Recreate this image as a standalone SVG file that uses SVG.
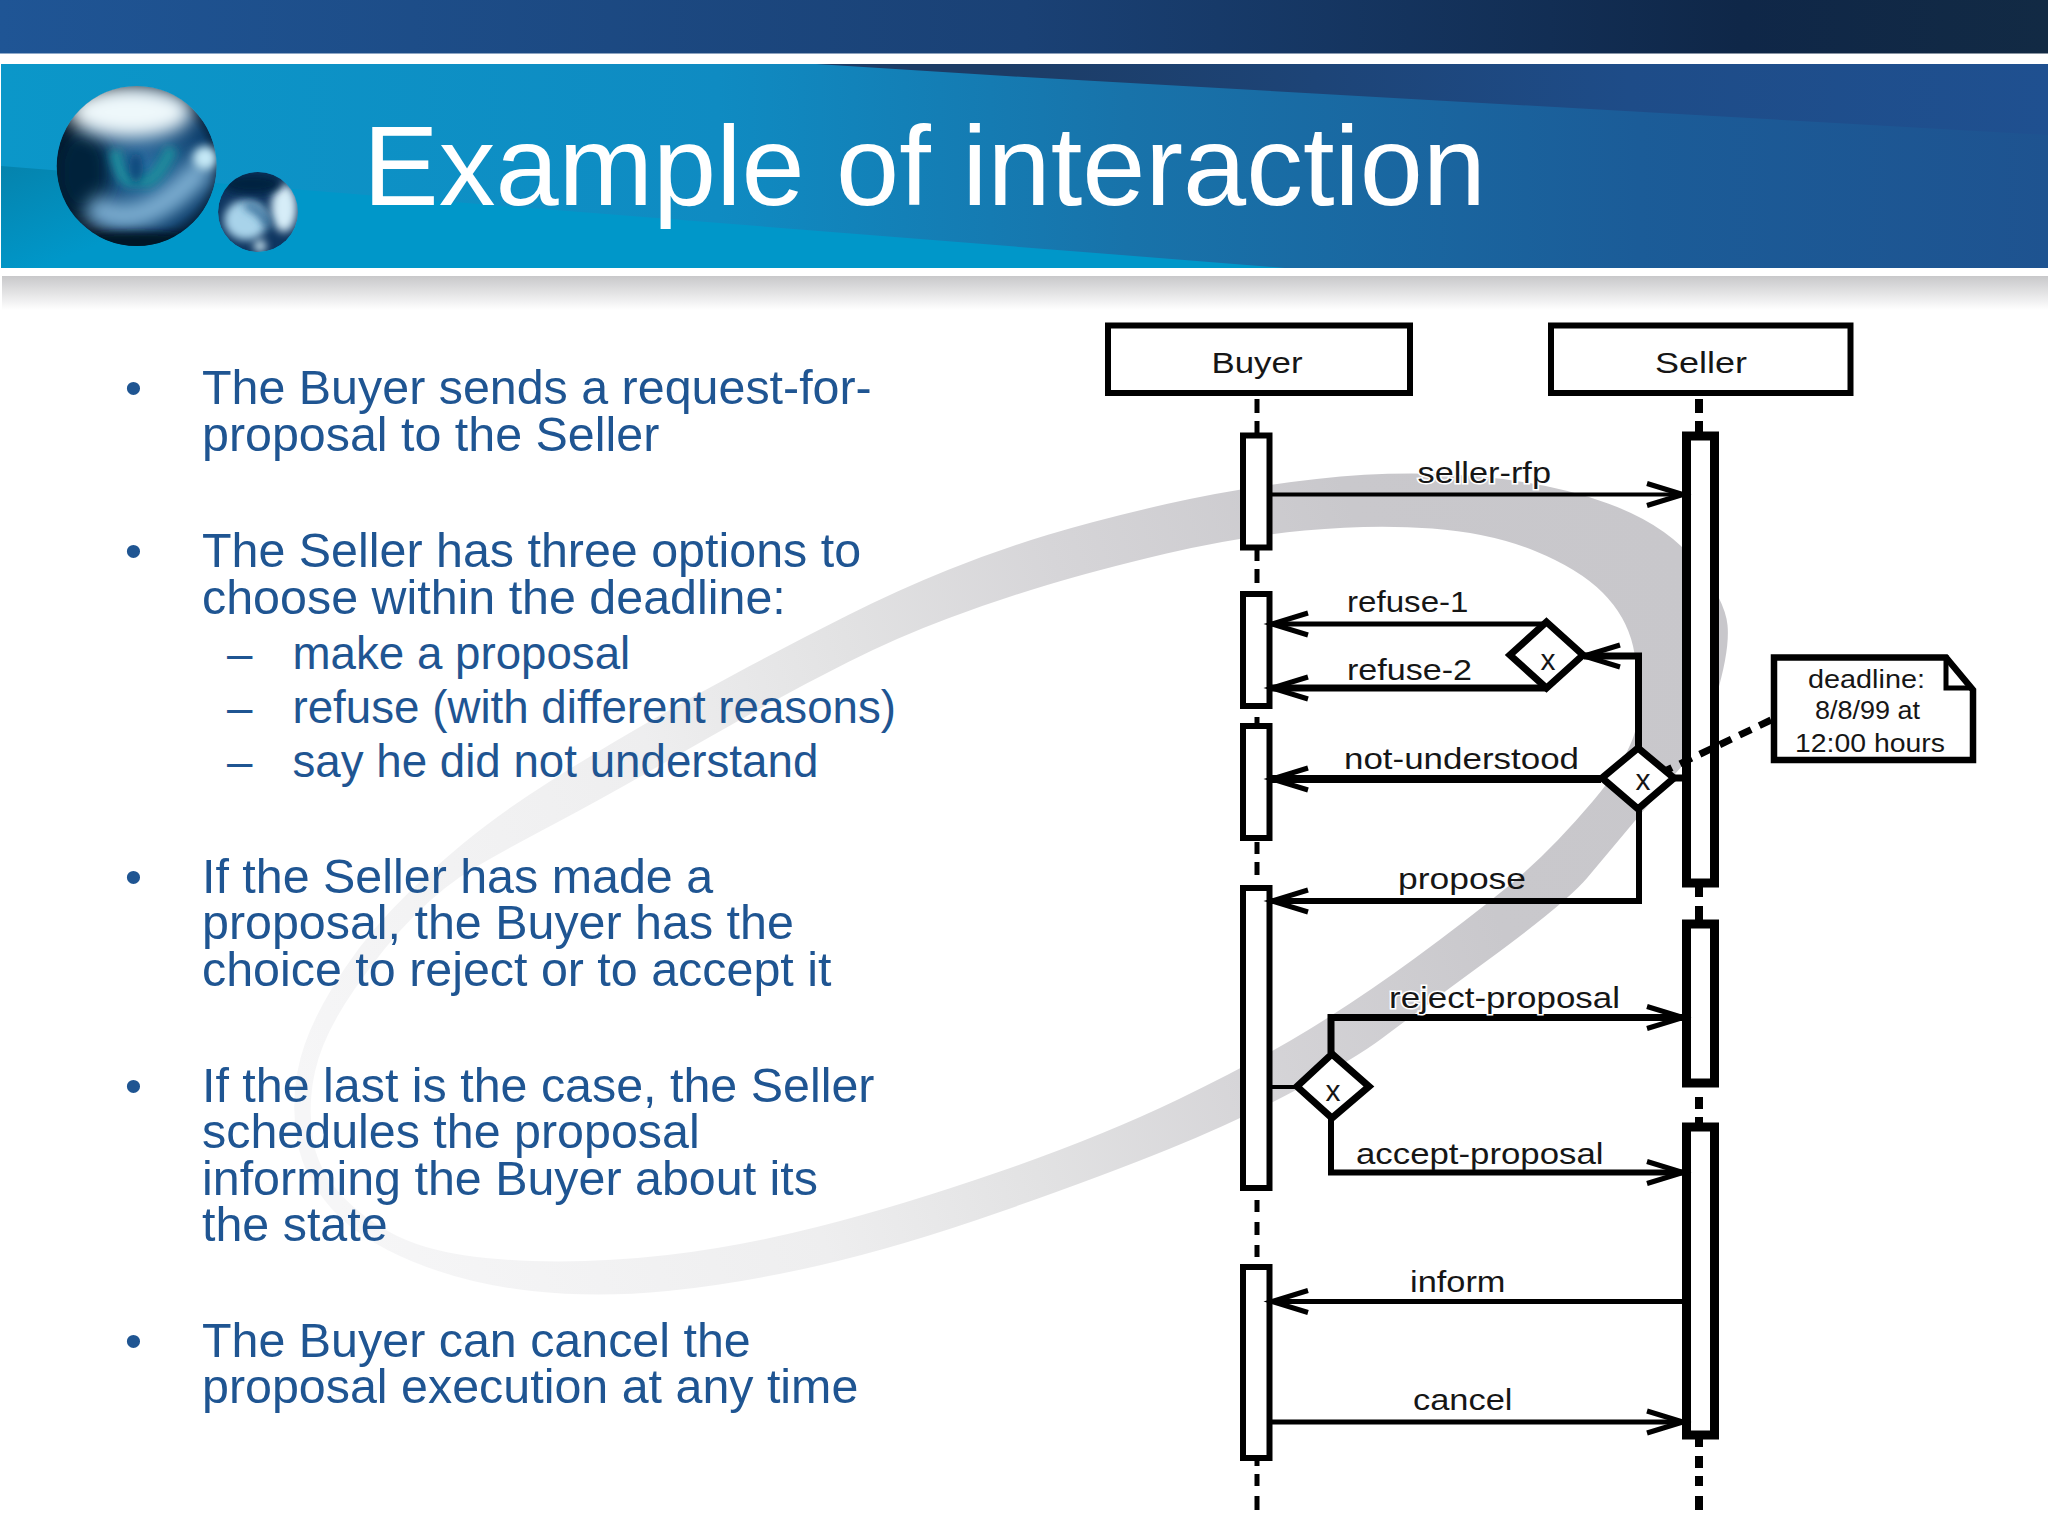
<svg xmlns="http://www.w3.org/2000/svg" width="2048" height="1536" viewBox="0 0 2048 1536">
<style>
.body{font-family:"Liberation Sans",Arial,sans-serif;font-size:48.4px;fill:#1f5592}
.sub{font-size:45.7px}
.title{font-family:"Liberation Sans",Arial,sans-serif;font-size:113.5px;fill:#fff}
.lbl{font-family:"Liberation Sans",Arial,sans-serif;font-size:30px;fill:#161616}
.halo{paint-order:stroke;stroke:#fff;stroke-width:3px}
.x{font-size:30px;text-anchor:middle}
.box{fill:#fff;stroke:#000;stroke-width:6}
.bbar{fill:#fff;stroke:#000;stroke-width:6}
.sbar{fill:#fff;stroke:#000;stroke-width:9}
.life{fill:none;stroke:#000}
.msg{fill:none;stroke:#000;stroke-width:5}
.dia{fill:#fff;stroke:#000;stroke-width:7}
</style>
<defs>
<linearGradient id="gTop" x1="0" y1="0" x2="1" y2="0"><stop offset="0" stop-color="#1f5595"/><stop offset=".5" stop-color="#1a4175"/><stop offset=".85" stop-color="#0f2748"/><stop offset="1" stop-color="#122a44"/></linearGradient>
<linearGradient id="gBand" x1="0" y1="0" x2="1" y2="0"><stop offset="0" stop-color="#0b97c9"/><stop offset=".35" stop-color="#0f8bc2"/><stop offset=".55" stop-color="#1873aa"/><stop offset=".8" stop-color="#1b5c98"/><stop offset="1" stop-color="#1e5390"/></linearGradient>
<linearGradient id="gWedge" gradientUnits="userSpaceOnUse" x1="0" y1="166" x2="40" y2="268"><stop offset="0" stop-color="#0583ad"/><stop offset="1" stop-color="#0097c9"/></linearGradient>
<linearGradient id="gCorner" gradientUnits="userSpaceOnUse" x1="1000" y1="64" x2="2048" y2="64"><stop offset="0" stop-color="#1c3c66"/><stop offset=".6" stop-color="#1e4c88"/><stop offset="1" stop-color="#1f5090"/></linearGradient>
<linearGradient id="gShade" x1="0" y1="0" x2="0" y2="1"><stop offset="0" stop-color="#c8c8ca"/><stop offset="1" stop-color="#fff"/></linearGradient>
<linearGradient id="gSwoosh" gradientUnits="userSpaceOnUse" x1="300" y1="1100" x2="1700" y2="600"><stop offset="0" stop-color="#f6f6f7"/><stop offset=".3" stop-color="#eeeeef"/><stop offset=".45" stop-color="#e2e2e3"/><stop offset=".6" stop-color="#d6d5d8"/><stop offset=".8" stop-color="#c9c8cc"/><stop offset="1" stop-color="#c8c7cb"/></linearGradient>
<radialGradient id="gB" cx=".55" cy=".5" r=".5"><stop offset="0" stop-color="#2d6ea3"/><stop offset=".8" stop-color="#0e3f6c"/><stop offset="1" stop-color="#041628"/></radialGradient>
<filter id="b8" x="-60%" y="-60%" width="220%" height="220%"><feGaussianBlur stdDeviation="9"/></filter>
<filter id="b4" x="-60%" y="-60%" width="220%" height="220%"><feGaussianBlur stdDeviation="4"/></filter>
<clipPath id="cBig"><circle cx="136.7" cy="166" r="80"/></clipPath>
<clipPath id="cSmall"><circle cx="258" cy="212" r="40"/></clipPath>
<marker id="arrow" markerUnits="userSpaceOnUse" markerWidth="44" markerHeight="32" refX="40" refY="16" orient="auto" overflow="visible"><path d="M4 5L40 16L4 27" fill="none" stroke="#000" stroke-width="5"/></marker>
</defs>

<g id="background">
<rect width="2048" height="1536" fill="#fff"/>
<path fill="url(#gSwoosh)" fill-rule="evenodd" d="M297.5 1142.5Q291 1108 297.5 1071.5Q304 1035 331 990Q358 945 391.5 910Q425 875 462.5 844Q500 813 549.75 781.5Q599.5 750 649.25 721.5Q699 693 748.75 666.5Q798.5 640 848.25 615Q898 590 947.75 570Q997.5 550 1047.25 535Q1097 520 1166.5 504Q1236 488 1316.5 479Q1397 470 1473 476Q1549 482 1608 503.5Q1667 525 1696 562.5Q1725 600 1727.5 625Q1730 650 1716 697Q1702 744 1683.5 764.5Q1665 785 1636.5 819Q1608 853 1587.5 877.5Q1567 902 1488 960Q1409 1018 1382.5 1038Q1356 1058 1297 1089.5Q1238 1121 1169 1149Q1100 1177 1000 1212Q900 1247 819 1265.5Q738 1284 667.5 1291Q597 1298 532 1291Q467 1284 412.5 1261.5Q358 1239 331 1208Q304 1177 297.5 1142.5Z
M313.5 1142.5Q307 1108 315 1071.5Q323 1035 354 990Q385 945 415 915Q445 885 475 867.5Q505 850 552.25 825Q599.5 800 649.25 771.5Q699 743 748.75 715Q798.5 687 848.25 662Q898 637 947.75 618.5Q997.5 600 1047.25 585Q1097 570 1166.5 553.5Q1236 537 1304.5 530.5Q1373 524 1432 528.5Q1491 533 1535 551Q1579 569 1602.5 592.5Q1626 616 1633 646Q1640 676 1638.5 712.5Q1637 749 1593 801Q1549 853 1508 886.5Q1467 920 1414.5 958.5Q1362 997 1309 1029.5Q1256 1062 1178 1099.5Q1100 1137 1000 1171.5Q900 1206 819 1226.5Q738 1247 667.5 1255Q597 1263 532 1261Q467 1259 426 1247Q385 1235 352.5 1206Q320 1177 313.5 1142.5Z"/>
</g>

<g id="header">
<rect x="0" y="0" width="2048" height="53.5" fill="url(#gTop)"/>
<rect x="1" y="64" width="2047" height="204" fill="url(#gBand)"/>
<polygon points="1,166 1285,268 1,268" fill="url(#gWedge)"/>
<polygon points="816,64 2048,64 2048,135 1024,77" fill="url(#gCorner)"/>
<rect x="2" y="276" width="2046" height="34" fill="url(#gShade)"/>
<text class="title" x="363" y="205">Example of interaction</text>
</g>

<g id="sphere-large" clip-path="url(#cBig)">
<circle cx="136.7" cy="166" r="80" fill="url(#gB)"/>
<ellipse cx="82" cy="172" rx="28" ry="44" fill="#03203a" filter="url(#b8)"/>
<path d="M90 205Q140 240 205 165" fill="none" stroke="#7fb0d3" stroke-width="26" filter="url(#b8)"/>
<path d="M115 150Q122 190 138 178Q152 192 172 148" fill="none" stroke="#1c8a9c" stroke-width="13" filter="url(#b4)"/>
<ellipse cx="136" cy="168" rx="7" ry="15" fill="#0d4a7d" filter="url(#b4)"/>
<ellipse cx="130" cy="112" rx="62" ry="26" fill="#eef8fb" filter="url(#b8)"/>
<circle cx="205" cy="158" r="12" fill="#c4e8f6" filter="url(#b4)"/>
<ellipse cx="136" cy="242" rx="60" ry="10" fill="#031526" filter="url(#b4)"/>
</g>
<g id="sphere-small" clip-path="url(#cSmall)">
<circle cx="258" cy="212" r="40" fill="#0e3560"/>
<ellipse cx="246" cy="220" rx="22" ry="20" fill="#a8d3ea" filter="url(#b4)"/>
<ellipse cx="284" cy="208" rx="13" ry="24" fill="#d6edf8" filter="url(#b4)"/>
<ellipse cx="252" cy="184" rx="30" ry="10" fill="#06203f" filter="url(#b4)"/>
<path d="M245 205Q262 210 268 226" fill="none" stroke="#26618f" stroke-width="7" filter="url(#b4)"/>
<circle cx="260" cy="246" r="6" fill="#d5f0f9" filter="url(#b4)"/>
</g>

<g id="bullets">
<text class="body" x="125" y="403.5">•</text>
<text class="body" x="202" y="403.5">The Buyer sends a request-for-</text>
<text class="body" x="202" y="450.5">proposal to the Seller</text>
<text class="body" x="125" y="567">•</text>
<text class="body" x="202" y="567">The Seller has three options to</text>
<text class="body" x="202" y="613.5">choose within the deadline:</text>
<text class="body sub" x="227" y="668.5">–</text>
<text class="body sub" x="292.5" y="668.5">make a proposal</text>
<text class="body sub" x="227" y="722.5">–</text>
<text class="body sub" x="292.5" y="722.5">refuse (with different reasons)</text>
<text class="body sub" x="227" y="777">–</text>
<text class="body sub" x="292.5" y="777">say he did not understand</text>
<text class="body" x="125" y="893">•</text>
<text class="body" x="202" y="893">If the Seller has made a</text>
<text class="body" x="202" y="939">proposal, the Buyer has the</text>
<text class="body" x="202" y="985.5">choice to reject or to accept it</text>
<text class="body" x="125" y="1101.5">•</text>
<text class="body" x="202" y="1101.5">If the last is the case, the Seller</text>
<text class="body" x="202" y="1148">schedules the proposal</text>
<text class="body" x="202" y="1194.5">informing the Buyer about its</text>
<text class="body" x="202" y="1240.5">the state</text>
<text class="body" x="125" y="1356.5">•</text>
<text class="body" x="202" y="1356.5">The Buyer can cancel the</text>
<text class="body" x="202" y="1403">proposal execution at any time</text>
</g>

<g id="lifelines">
<path class="life" stroke-width="5" d="M1257 399V413M1257 421V433M1257 550V561M1257 569V583M1257 717V723M1257 842V854M1257 862V875M1257 1200V1212M1257 1222V1235M1257 1245V1257M1257 1460V1466M1257 1474V1486M1257 1496V1510"/>
<path class="life" stroke-width="8" d="M1699 399V413M1699 421V433M1699 887V897M1699 906V920M1699 1097V1109M1699 1117V1123M1699 1439V1447M1699 1456V1468M1699 1476V1486M1699 1496V1510"/>
</g>

<g id="buyer"><rect class="box" x="1108" y="325.5" width="302" height="67.5"/><text class="lbl" x="1211.5" y="373" textLength="91" lengthAdjust="spacingAndGlyphs">Buyer</text></g>
<g id="seller"><rect class="box" x="1551" y="325.5" width="299.5" height="67.5"/><text class="lbl" x="1655" y="373" textLength="92" lengthAdjust="spacingAndGlyphs">Seller</text></g>

<g id="buyer-activations">
<rect class="bbar" x="1243" y="435.5" width="26.5" height="112"/>
<rect class="bbar" x="1243" y="594" width="26.5" height="112"/>
<rect class="bbar" x="1243" y="726" width="26.5" height="112"/>
<rect class="bbar" x="1243" y="888" width="26.5" height="300"/>
<rect class="bbar" x="1243" y="1267" width="26.5" height="191"/>
</g>
<g id="seller-activations">
<rect class="sbar" x="1686.5" y="436" width="28" height="447"/>
<rect class="sbar" x="1686.5" y="924" width="28" height="159"/>
<rect class="sbar" x="1686.5" y="1127" width="28" height="308"/>
</g>

<g id="connectors">
<path class="msg" style="stroke-width:4" d="M1272 494.5H1683" marker-end="url(#arrow)"/>
<path class="msg" d="M1546 624H1272" marker-end="url(#arrow)"/>
<path class="msg" style="stroke-width:7" d="M1546 688H1272" marker-end="url(#arrow)"/>
<path class="msg" style="stroke-width:7" d="M1638.5 750V656H1584" marker-end="url(#arrow)"/>
<path class="msg" style="stroke-width:8" d="M1601 779H1272" marker-end="url(#arrow)"/>
<path class="msg" style="stroke-width:7" d="M1675 778H1683"/>
<path class="msg" style="stroke-width:6" d="M1639 808V901H1272" marker-end="url(#arrow)"/>
<path class="msg" style="stroke-width:7" d="M1331 1053V1017.5H1683" marker-end="url(#arrow)"/>
<path class="msg" style="stroke-width:4" d="M1272 1087H1297"/>
<path class="msg" style="stroke-width:6" d="M1331 1119V1172.5H1683" marker-end="url(#arrow)"/>
<path class="msg" d="M1683 1301.5H1272" marker-end="url(#arrow)"/>
<path class="msg" d="M1272 1422H1683" marker-end="url(#arrow)"/>
<path class="msg" style="stroke-width:7" stroke-dasharray="13 9" d="M1771 720L1663 772"/>
</g>

<g id="message-labels">
<text class="lbl halo" x="1417.5" y="482.7" textLength="133.5" lengthAdjust="spacingAndGlyphs">seller-rfp</text>
<text class="lbl" x="1347" y="612" textLength="121.5" lengthAdjust="spacingAndGlyphs">refuse-1</text>
<text class="lbl" x="1347" y="680" textLength="125" lengthAdjust="spacingAndGlyphs">refuse-2</text>
<text class="lbl" x="1344" y="768.5" textLength="235" lengthAdjust="spacingAndGlyphs">not-understood</text>
<text class="lbl" x="1398" y="889" textLength="128" lengthAdjust="spacingAndGlyphs">propose</text>
<text class="lbl halo" x="1389" y="1007.5" textLength="231" lengthAdjust="spacingAndGlyphs">reject-proposal</text>
<text class="lbl" x="1356" y="1163.6" textLength="247.5" lengthAdjust="spacingAndGlyphs">accept-proposal</text>
<text class="lbl" x="1410" y="1292" textLength="95.5" lengthAdjust="spacingAndGlyphs">inform</text>
<text class="lbl" x="1413" y="1410" textLength="99.5" lengthAdjust="spacingAndGlyphs">cancel</text>
</g>

<g id="decision-1"><polygon class="dia" points="1546.5,622 1583,655 1546.5,688 1510,655"/><text class="lbl x" x="1548" y="670">x</text></g>
<g id="decision-2"><polygon class="dia" points="1638,748 1674,778 1638,809 1602,778"/><text class="lbl x" x="1643" y="790">x</text></g>
<g id="decision-3"><polygon class="dia" points="1332,1054 1369,1086.5 1332,1118 1297,1086.5"/><text class="lbl x" x="1333" y="1101">x</text></g>

<g id="note">
<path d="M1774 657.5H1946L1973 690V760H1774Z" fill="#fff" stroke="#000" stroke-width="6.5"/>
<path d="M1946 655V688H1973" fill="none" stroke="#000" stroke-width="5"/>
<text class="lbl" style="font-size:25px" x="1808" y="688" textLength="117" lengthAdjust="spacingAndGlyphs">deadline:</text>
<text class="lbl" style="font-size:25px" x="1815" y="719" textLength="105" lengthAdjust="spacingAndGlyphs">8/8/99 at</text>
<text class="lbl" style="font-size:25px" x="1795" y="752" textLength="150" lengthAdjust="spacingAndGlyphs">12:00 hours</text>
</g>
</svg>
